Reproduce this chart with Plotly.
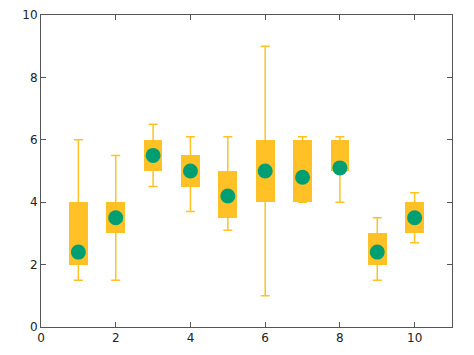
import plotly.graph_objects as go

x = [1, 2, 3, 4, 5, 6, 7, 8, 9, 10]
low = [1.5, 1.5, 4.5, 3.7, 3.1, 1.0, 4.0, 4.0, 1.5, 2.7]
q1 = [2.0, 3.0, 5.0, 4.5, 3.5, 4.0, 4.0, 5.0, 2.0, 3.0]
q3 = [4.0, 4.0, 6.0, 5.5, 5.0, 6.0, 6.0, 6.0, 3.0, 4.0]
high = [6.0, 5.5, 6.5, 6.1, 6.1, 9.0, 6.1, 6.1, 3.5, 4.3]
median = [2.4, 3.5, 5.5, 5.0, 4.2, 5.0, 4.8, 5.1, 2.4, 3.5]

yellow = "#FFC125"
green = "#009E73"

fig = go.Figure()
fig.add_trace(go.Bar(
    x=x, y=[b - a for a, b in zip(q1, q3)], base=q1, width=0.5,
    marker=dict(color=yellow, line=dict(width=0)), showlegend=False, hoverinfo="skip",
))
fig.add_trace(go.Scatter(
    x=x, y=median, mode="markers",
    marker=dict(color=green, size=15, line=dict(width=0)),
    error_y=dict(type="data", symmetric=False,
                 array=[h - m for h, m in zip(high, median)],
                 arrayminus=[m - l for m, l in zip(median, low)],
                 color=yellow, thickness=1.5, width=4.5),
    showlegend=False,
))

axis_common = dict(showgrid=False, zeroline=False, showline=True, linecolor="#555555",
                   linewidth=1, mirror="ticks", ticks="inside", ticklen=5, automargin=False,
                   tickcolor="#555555", tickfont=dict(family="DejaVu Sans", size=12, color="#222222"))
fig.update_xaxes(range=[0, 11], tickvals=[0, 2, 4, 6, 8, 10], **axis_common)
fig.update_yaxes(range=[0, 10], tickvals=[0, 2, 4, 6, 8, 10], **axis_common)
fig.update_layout(
    width=474, height=355, margin=dict(l=41, r=22, t=15, b=28),
    plot_bgcolor="white", paper_bgcolor="white", bargap=0,
)
fig.write_html("out.html", config={"displayModeBar": False},
               post_script="document.body.style.margin='0';document.body.style.overflow='hidden';")
